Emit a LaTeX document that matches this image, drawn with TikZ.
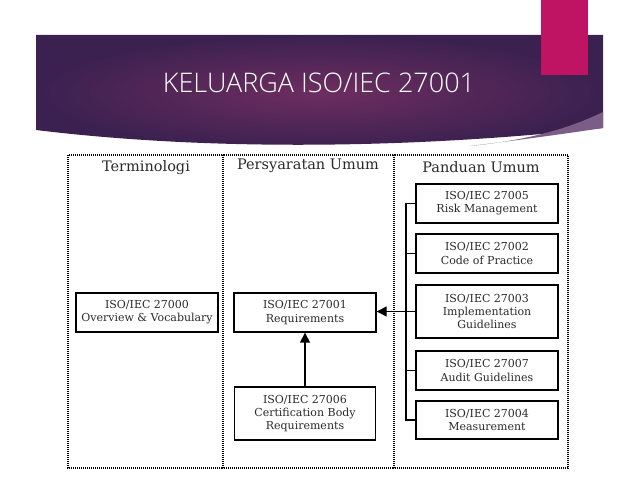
\documentclass[tikz,border=0pt]{standalone}
\usepackage{fontspec}
\setmainfont{DejaVu Serif}
\newfontfamily\titlefont{Open Sans Light}
\usetikzlibrary{arrows.meta}
\definecolor{bandark}{HTML}{3B2150}
\definecolor{banlight}{HTML}{6E2D60}
\definecolor{pinkbar}{HTML}{BE1463}
\definecolor{sliver}{HTML}{7C5D88}
\definecolor{txt}{HTML}{2A2A2A}
\tikzset{
  docbox/.style={draw=black, line width=1.4pt, align=center, text=txt, font=\fontsize{11}{13.2}\selectfont, inner sep=0pt},
  colhead/.style={text=txt, font=\fontsize{14.5}{16}\selectfont},
  frame/.style={draw=black, line width=1.3pt, dash pattern=on 1pt off 1pt},
  conn/.style={line width=1.4pt},
  arr/.style={conn, -{Triangle[length=10pt,width=10pt]}}
}
\begin{document}
\begin{tikzpicture}[x=1pt,y=-1pt]
\useasboundingbox (0,0) rectangle (638,478);
\fill[white] (0,0) rectangle (638,478);
% banner
\shade[inner color=banlight, outer color=bandark] (36,35) -- (603,35) -- (603,128) .. controls (400,150) and (200,150) .. (36,130) -- cycle;
\fill[sliver] (603,112) .. controls (570,128) and (530,140) .. (470,146) .. controls (520,140) and (570,133) .. (603,128) -- cycle;
\fill[pinkbar] (541,0) rectangle (588,75);
\node[text=white, font=\titlefont\fontsize{27}{30}\selectfont] (title) at (319,83) {KELUARGA ISO/IEC 27001};
% columns
\draw[frame] (68,155) rectangle (223,468);
\draw[frame] (223,155) rectangle (394,468);
\draw[frame] (394,155) rectangle (568,468);
\node[colhead] (h1) at (146,168) {Terminologi};
\node[colhead] (h2) at (308,166) {Persyaratan Umum};
\node[colhead] (h3) at (481,167) {Panduan Umum};
% boxes
\node[docbox, minimum width=142pt, minimum height=39pt] (b0) at (147,312.5) {ISO/IEC 27000\\Overview \& Vocabulary};
\node[docbox, minimum width=142pt, minimum height=39pt] (b1) at (305,312.5) {ISO/IEC 27001\\Requirements};
\node[docbox, minimum width=141pt, minimum height=53pt] (b6) at (305,413.5) {ISO/IEC 27006\\Certification Body\\Requirements};
\node[docbox, minimum width=142pt, minimum height=39pt] (b5) at (487,203.5) {ISO/IEC 27005\\Risk Management};
\node[docbox, minimum width=142pt, minimum height=39pt] (b2) at (487,253.5) {ISO/IEC 27002\\Code of Practice};
\node[docbox, minimum width=142pt, minimum height=53pt] (b3) at (487,311.5) {ISO/IEC 27003\\Implementation\\Guidelines};
\node[docbox, minimum width=142pt, minimum height=39pt] (b7) at (487,370.5) {ISO/IEC 27007\\Audit Guidelines};
\node[docbox, minimum width=142pt, minimum height=38pt] (b4) at (487,420) {ISO/IEC 27004\\Measurement};
% bus
\coordinate (bt) at (406,203.5);
\coordinate (bb) at (406,420);
\coordinate (bm) at (406,311.5);
\draw[conn] (b5.west) -- (bt) -- (bb) -- (b4.west);
\draw[conn] (b2.west) -- (406,253.5);
\draw[conn] (b7.west) -- (406,370.5);
\draw[conn] (b3.west) -- (bm);
\draw[arr] (bm) -- (b1.east |- bm);
\draw[arr] (b6.north) -- (b1.south);
\end{tikzpicture}
\end{document}
